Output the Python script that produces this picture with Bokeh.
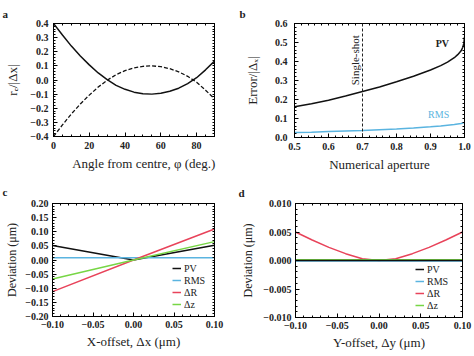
from bokeh.plotting import figure
from bokeh.layouts import row, column
from bokeh.models import FixedTicker, LinearAxis, Range1d, Legend, LegendItem, Label, Span, Title
from bokeh.embed import file_html
from bokeh.resources import INLINE
import numpy as np

# ---------------- data ----------------
# Panel a
phi = [0, 5, 10, 15, 20, 25, 30, 35, 40, 45, 50, 55, 60, 65, 70, 75, 80, 85, 90]
re_solid = [0.400, 0.318, 0.240, 0.170, 0.107, 0.050, 0.002, -0.038, -0.066, -0.086,
            -0.097, -0.100, -0.094, -0.080, -0.058, -0.026, 0.016, 0.072, 0.134]
re_dashed = [-0.400, -0.318, -0.240, -0.170, -0.107, -0.050, -0.002, 0.038, 0.066, 0.086,
             0.097, 0.100, 0.094, 0.080, 0.058, 0.026, -0.016, -0.072, -0.134]
a_xticks = [0, 20, 40, 60, 80]
a_xlabels = ["0", "20", "40", "60", "80"]
a_yticks = [-0.4, -0.3, -0.2, -0.1, 0.0, 0.1, 0.2, 0.3, 0.4]
a_ylabels = ["\u22120.4", "\u22120.3", "\u22120.2", "\u22120.1", "0.0", "0.1", "0.2", "0.3", "0.4"]

# Panel b
na = [0.5, 0.55, 0.6, 0.65, 0.7, 0.75, 0.8, 0.85, 0.9, 0.93, 0.95, 0.97, 0.98, 0.99, 0.995, 0.998, 1.0]
pv_b = [0.162, 0.178, 0.196, 0.218, 0.242, 0.266, 0.293, 0.322, 0.355, 0.378, 0.397, 0.420,
        0.436, 0.456, 0.475, 0.495, 0.530]
rms_b = [0.026, 0.028, 0.031, 0.034, 0.037, 0.041, 0.045, 0.050, 0.056, 0.060, 0.064, 0.068,
         0.071, 0.074, 0.076, 0.077, 0.078]
single_shot_na = 0.7
b_xticks = [0.5, 0.6, 0.7, 0.8, 0.9, 1.0]
b_xlabels = ["0.5", "0.6", "0.7", "0.8", "0.9", "1.0"]
b_yticks = [0.0, 0.1, 0.2, 0.3, 0.4, 0.5, 0.6]
b_ylabels = ["0.0", "0.1", "0.2", "0.3", "0.4", "0.5", "0.6"]

# Panel c
dx = [-0.1, 0.0, 0.1]
pv_c = [0.051, 0.0, 0.052]
rms_c = [0.008, 0.008, 0.008]
dR_c = [-0.112, 0.0, 0.110]
dz_c = [-0.067, 0.0, 0.065]
c_xticks = [-0.10, -0.05, 0.0, 0.05, 0.10]
c_xlabels = ["\u22120.10", "\u22120.05", "0.00", "0.05", "0.10"]
c_yticks = [-0.20, -0.15, -0.10, -0.05, 0.0, 0.05, 0.10, 0.15, 0.20]
c_ylabels = ["\u22120.20", "\u22120.15", "\u22120.10", "\u22120.05", "0.00", "0.05", "0.10", "0.15", "0.20"]

# Panel d
dy = [-0.1, -0.08, -0.06, -0.04, -0.02, 0.0, 0.02, 0.04, 0.06, 0.08, 0.1]
dR_d = [0.0050, 0.0036, 0.0023, 0.0012, 0.0003, 0.0, 0.0003, 0.0012, 0.0023, 0.0036, 0.0050]
dy_flat = [-0.1, 0.1]
pv_d = [0.0, 0.0]
rms_d = [-0.00008, -0.00008]
dz_d = [0.00012, 0.00012]
d_xticks = [-0.10, -0.05, 0.0, 0.05, 0.10]
d_xlabels = ["\u22120.10", "\u22120.05", "0.00", "0.05", "0.10"]
d_yticks = [-0.010, -0.005, 0.0, 0.005, 0.010]
d_ylabels = ["\u22120.010", "\u22120.005", "0.000", "0.005", "0.010"]

series_names = ["PV", "RMS", "\u0394R", "\u0394z"]

# ---------------- style ----------------
FONT = "Liberation Serif"
TXT = "#222222"
BLACK = "#111111"
BLUE = "#5ab4e0"
RED = "#e8435a"
GREEN = "#77d645"


def minor_list(lo, hi, step):
    n = int(round((hi - lo) / step))
    return [float(round(lo + i * step, 6)) for i in range(n + 1)]


def style_axis(ax, ticks, labels, minor, label, label_size, label_standoff, tick_standoff):
    ax.ticker = FixedTicker(ticks=ticks, minor_ticks=minor)
    ax.major_label_overrides = dict(zip(ticks, labels))
    ax.major_tick_in = 4
    ax.major_tick_out = 0
    ax.minor_tick_in = 2
    ax.minor_tick_out = 0
    ax.major_tick_line_color = "black"
    ax.minor_tick_line_color = "black"
    ax.axis_line_color = "black"
    ax.major_label_text_font = FONT
    ax.major_label_text_font_size = "10px"
    ax.major_label_text_font_style = "bold"
    ax.major_label_text_color = TXT
    ax.major_label_standoff = tick_standoff
    ax.axis_label = label
    ax.axis_label_text_font = FONT
    ax.axis_label_text_font_size = label_size
    ax.axis_label_text_font_style = "normal"
    ax.axis_label_text_color = TXT
    ax.axis_label_standoff = label_standoff


def mirror(p, ticks, minor, loc):
    # frame ticks on the opposite side: tick marks only, no labels
    ax = LinearAxis(ticker=FixedTicker(ticks=[], minor_ticks=sorted(set(minor) | set(ticks))),
                    major_label_standoff=0, major_tick_in=0, major_tick_out=0,
                    minor_tick_in=2, minor_tick_out=0, minor_tick_line_color="black",
                    axis_line_color="black")
    p.add_layout(ax, loc)


def make_fig(letter, letter_offset, letter_standoff, xr, yr, frame, borders):
    fw, fh = frame
    l, r, t, b = borders
    p = figure(frame_width=fw, frame_height=fh, x_range=Range1d(*xr), y_range=Range1d(*yr),
               output_backend="svg", toolbar_location=None,
               min_border_left=l, min_border_right=r, min_border_top=t, min_border_bottom=b)
    p.grid.visible = False
    p.outline_line_color = "black"
    p.outline_line_width = 1
    p.title = Title(text=letter, align="left", offset=letter_offset, standoff=letter_standoff,
                    text_font=FONT, text_font_size="11px", text_font_style="bold",
                    text_color=TXT)
    return p


# ---------------- panel a ----------------
pa = make_fig("a", -51, 8, (0, 90), (-0.4, 0.4), (161, 113), (53, 23, 23, 42))
a_minor_x = minor_list(0, 90, 5)
a_minor_y = minor_list(-0.4, 0.4, 0.02)
style_axis(pa.xaxis[0], a_xticks, a_xlabels, a_minor_x,
           "\u2003\u2002Angle from centre, \u03c6 (deg.)", "13px", 4, 5)
style_axis(pa.yaxis[0], a_yticks, a_ylabels, a_minor_y, "r\u2091/|\u0394x|", "13px", 7, 5)
mirror(pa, a_xticks, a_minor_x, "above")
mirror(pa, a_yticks, a_minor_y, "right")
pa.line(phi, re_solid, line_color=BLACK, line_width=1.5)
pa.line(phi, re_dashed, line_color=BLACK, line_width=1.3, line_dash="4 2")

# ---------------- panel b ----------------
pb = make_fig("b", -55, 7, (0.5, 1.0), (0.0, 0.6), (170, 114), (57, 10, 22, 42))
b_minor_x = minor_list(0.5, 1.0, 0.02)
b_minor_y = minor_list(0.0, 0.6, 0.02)
style_axis(pb.xaxis[0], b_xticks, b_xlabels, b_minor_x, "Numerical aperture", "13px", 4, 5)
style_axis(pb.yaxis[0], b_yticks, b_ylabels, b_minor_y, "Error/|\u0394\u2093|", "13px", 12, 7)
mirror(pb, b_xticks, b_minor_x, "above")
mirror(pb, b_yticks, b_minor_y, "right")
pb.add_layout(Span(location=single_shot_na, dimension="height", line_color=TXT,
                   line_width=1, line_dash="3 2"))
pb.line(na, pv_b, line_color=BLACK, line_width=1.5)
pb.line(na, rms_b, line_color=BLUE, line_width=1.5)
pb.add_layout(Label(x=single_shot_na, y=0.275, text="Single-shot", angle=np.pi / 2,
                    x_offset=-2, text_align="left", text_baseline="bottom",
                    text_font=FONT, text_font_size="11px", text_color=TXT))
pb.add_layout(Label(x=0.935, y=0.495, text="PV", text_align="center", text_baseline="middle",
                    text_font=FONT, text_font_size="10px", text_font_style="bold",
                    text_color=TXT))
pb.add_layout(Label(x=0.924, y=0.121, text="RMS", text_align="center", text_baseline="middle",
                    text_font=FONT, text_font_size="10px", text_color=BLUE))

# ---------------- panel c ----------------
pc = make_fig("c", -50, 11, (-0.1, 0.1), (-0.2, 0.2), (162, 113), (52, 23, 25, 40))
c_minor_x = minor_list(-0.1, 0.1, 0.01)
c_minor_y = minor_list(-0.2, 0.2, 0.01)
style_axis(pc.xaxis[0], c_xticks, c_xlabels, c_minor_x, "X-offset, \u0394x (\u03bcm)", "13px", 3, 4)
style_axis(pc.yaxis[0], c_yticks, c_ylabels, c_minor_y, "Deviation (\u03bcm)", "12px", 3, 4)
mirror(pc, c_xticks, c_minor_x, "above")
mirror(pc, c_yticks, c_minor_y, "right")
rc = [pc.line(dx, pv_c, line_color=BLACK, line_width=1.5),
      pc.line(dx, rms_c, line_color=BLUE, line_width=1.5),
      pc.line(dx, dR_c, line_color=RED, line_width=1.5),
      pc.line(dx, dz_c, line_color=GREEN, line_width=1.5)]

# ---------------- panel d ----------------
pd_ = make_fig("d", -57, 10, (-0.1, 0.1), (-0.01, 0.01), (167, 114), (58, 12, 24, 40))
d_minor_x = c_minor_x
d_minor_y = minor_list(-0.01, 0.01, 0.001)
style_axis(pd_.xaxis[0], d_xticks, d_xlabels, d_minor_x, "Y-offset, \u0394y (\u03bcm)", "13px", 3, 4)
style_axis(pd_.yaxis[0], d_yticks, d_ylabels, d_minor_y, "Deviation (\u03bcm)", "12px", 5, 4)
mirror(pd_, d_xticks, d_minor_x, "above")
mirror(pd_, d_yticks, d_minor_y, "right")
rd_red = pd_.line(dy, dR_d, line_color=RED, line_width=1.5)
rd_green = pd_.line(dy_flat, dz_d, line_color=GREEN, line_width=1.5)
rd_blue = pd_.line(dy_flat, rms_d, line_color=BLUE, line_width=1.5)
rd_black = pd_.line(dy_flat, pv_d, line_color=BLACK, line_width=1.5)
rd = [rd_black, rd_blue, rd_red, rd_green]


def add_legend(p, renderers, loc):
    items = [LegendItem(label=n, renderers=[r]) for n, r in zip(series_names, renderers)]
    leg = Legend(items=items, location=loc, border_line_color=None, background_fill_alpha=0,
                 padding=0, margin=0, spacing=0, glyph_width=9, glyph_height=12,
                 label_height=12, label_standoff=3, label_text_font=FONT,
                 label_text_font_size="10px", label_text_color=TXT)
    p.add_layout(leg, "center")


add_legend(pc, rc, (120, 6))
add_legend(pd_, rd, (120, 6))

layout = column(row(pa, pb, spacing=0), row(pc, pd_, spacing=0), spacing=0)
open("out.html", "w").write(file_html(layout, INLINE))
